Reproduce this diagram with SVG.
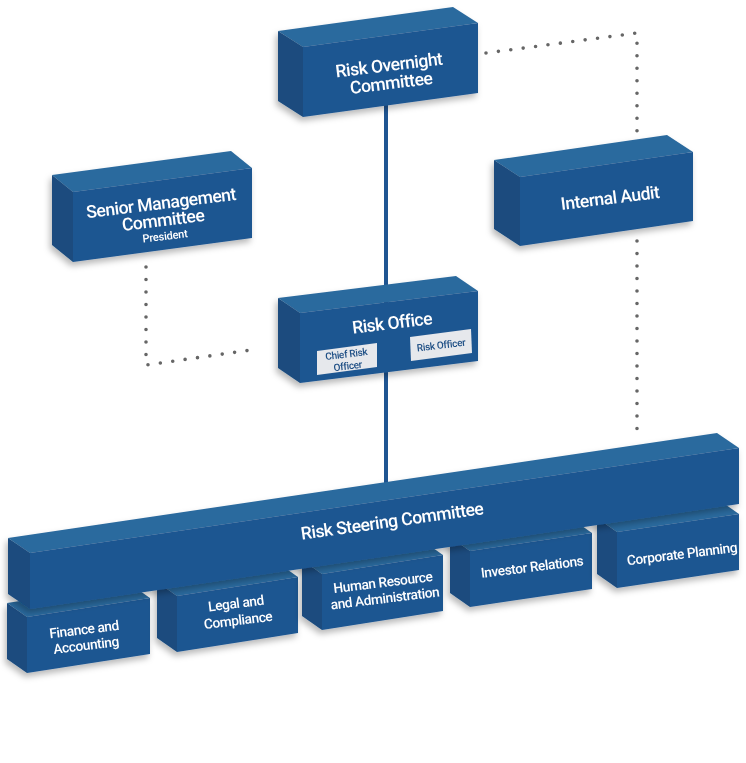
<svg xmlns="http://www.w3.org/2000/svg" width="746" height="763" viewBox="0 0 746 763">
<defs>
<filter id="sh" x="-20%" y="-20%" width="140%" height="150%">
<feDropShadow dx="-2" dy="4" stdDeviation="3" flood-color="#000" flood-opacity="0.28"/>
</filter>
<style>
.front{fill:#1F5691}
.top{fill:#2C6A9E}
.side{fill:#1A4B7E}
.box{filter:url(#sh)}
.t{font-family:Roboto,"Liberation Sans",Arial,sans-serif;font-weight:500;fill:#fff;text-anchor:middle}
.big{font-size:17.6px;letter-spacing:-0.5px}
.mid{font-size:13.7px;letter-spacing:-0.4px}
.sm{font-size:11px;letter-spacing:-0.2px}
.tag{fill:#E6E8EC}
.tt{font-family:Roboto,"Liberation Sans",Arial,sans-serif;font-weight:500;fill:#1F4F85;font-size:10px;letter-spacing:-0.3px;text-anchor:middle}
.dot{fill:none;stroke:#666;stroke-width:3.6;stroke-linecap:round;stroke-dasharray:0 12.5}
.solid{fill:none;stroke:#1F5592;stroke-width:4}
</style>
</defs>
<rect width="746" height="763" fill="#fff"/>

<g id="connectors">
<line class="solid" x1="386" y1="100" x2="386" y2="490"/>
<path class="dot" d="M486,53 L637,33 L637,131"/>
<path class="dot" d="M146,267 L146,365 L258,349"/>
<path class="dot" d="M637,241 L637,438"/>
</g>

<g id="risk-overnight" class="box">
<polygon class="top" points="278,31 453,7 478,23 303,47"/>
<polygon class="side" points="278,31 303,47 303,117 278,101"/>
<polygon class="front" points="303,47 478,23 478,93 303,117"/>
<g transform="translate(390,74) rotate(-7)">
<text class="t big" x="0" y="-3">Risk Overnight</text>
<text class="t big" x="0" y="15">Committee</text>
</g>
</g>

<g id="senior-management" class="box">
<polygon class="top" points="52,175 231,151 252,168 73,192"/>
<polygon class="side" points="52,175 73,192 73,262 52,245"/>
<polygon class="front" points="73,192 252,168 252,238 73,262"/>
<g transform="translate(163,220) rotate(-7)">
<text class="t big" x="0" y="-11">Senior Management</text>
<text class="t big" x="0" y="6">Committee</text>
<text class="t sm" x="0" y="20">President</text>
</g>
</g>

<g id="internal-audit" class="box">
<polygon class="top" points="494,160 667,135 693,152 520,177"/>
<polygon class="side" points="494,160 520,177 520,246 494,229"/>
<polygon class="front" points="520,177 693,152 693,221 520,246"/>
<g transform="translate(610,198) rotate(-7)">
<text class="t big" x="0" y="6">Internal Audit</text>
</g>
</g>

<g id="risk-office" class="box">
<polygon class="top" points="278,298 456,276 478,291 300,313"/>
<polygon class="side" points="278,298 300,313 300,383 278,368"/>
<polygon class="front" points="300,313 478,291 478,361 300,383"/>
<g transform="translate(392,323) rotate(-7)">
<text class="t big" x="0" y="6">Risk Office</text>
</g>
<polygon class="tag" points="317,351 377,343 377,367 317,375"/>
<g transform="translate(347,360) rotate(-7)">
<text class="tt" x="0" y="-2.5">Chief Risk</text>
<text class="tt" x="0" y="9.5">Officer</text>
</g>
<polygon class="tag" points="410,337 471,329 472,353 411,361"/>
<g transform="translate(441,345) rotate(-7)">
<text class="tt" x="0" y="3.6">Risk Officer</text>
</g>
</g>

<g id="finance-accounting" class="box">
<polygon class="top" points="7,603 130,584 150,598 27,617"/>
<polygon class="side" points="7,603 27,617 27,673 7,659"/>
<polygon class="front" points="27,617 150,598 150,654 27,673"/>
<g transform="translate(85,637) rotate(-7)">
<text class="t mid" x="0" y="-3">Finance and</text>
<text class="t mid" x="0" y="13">Accounting</text>
</g>
</g>

<g id="legal-compliance" class="box">
<polygon class="top" points="157,582 278,563 298,577 177,596"/>
<polygon class="side" points="157,582 177,596 177,652 157,638"/>
<polygon class="front" points="177,596 298,577 298,633 177,652"/>
<g transform="translate(237,612) rotate(-7)">
<text class="t mid" x="0" y="-4">Legal and</text>
<text class="t mid" x="0" y="13">Compliance</text>
</g>
</g>

<g id="human-resource" class="box">
<polygon class="top" points="302,560 423,541 443,555 322,574"/>
<polygon class="side" points="302,560 322,574 322,630 302,616"/>
<polygon class="front" points="322,574 443,555 443,611 322,630"/>
<g transform="translate(384,591) rotate(-7)">
<text class="t mid" x="0" y="-4">Human Resource</text>
<text class="t mid" x="0" y="12">and Administration</text>
</g>
</g>

<g id="investor-relations" class="box">
<polygon class="top" points="450,537 572,519 592,533 470,551"/>
<polygon class="side" points="450,537 470,551 470,607 450,593"/>
<polygon class="front" points="470,551 592,533 592,589 470,607"/>
<g transform="translate(532,567) rotate(-7)">
<text class="t mid" x="0" y="4.6">Investor Relations</text>
</g>
</g>

<g id="corporate-planning" class="box">
<polygon class="top" points="597,518 719,500 739,514 617,532"/>
<polygon class="side" points="597,518 617,532 617,588 597,574"/>
<polygon class="front" points="617,532 739,514 739,570 617,588"/>
<g transform="translate(682,554) rotate(-7)">
<text class="t mid" x="0" y="4.6">Corporate Planning</text>
</g>
</g>

<g id="risk-steering" class="box">
<polygon class="top" points="8,538 717,433 739,448 30,553"/>
<polygon class="side" points="8,538 30,553 30,609 8,594"/>
<polygon class="front" points="30,553 739,448 739,504 30,609"/>
<g transform="translate(392,521) rotate(-8)">
<text class="t big" x="0" y="6">Risk Steering Committee</text>
</g>
</g>
</svg>
